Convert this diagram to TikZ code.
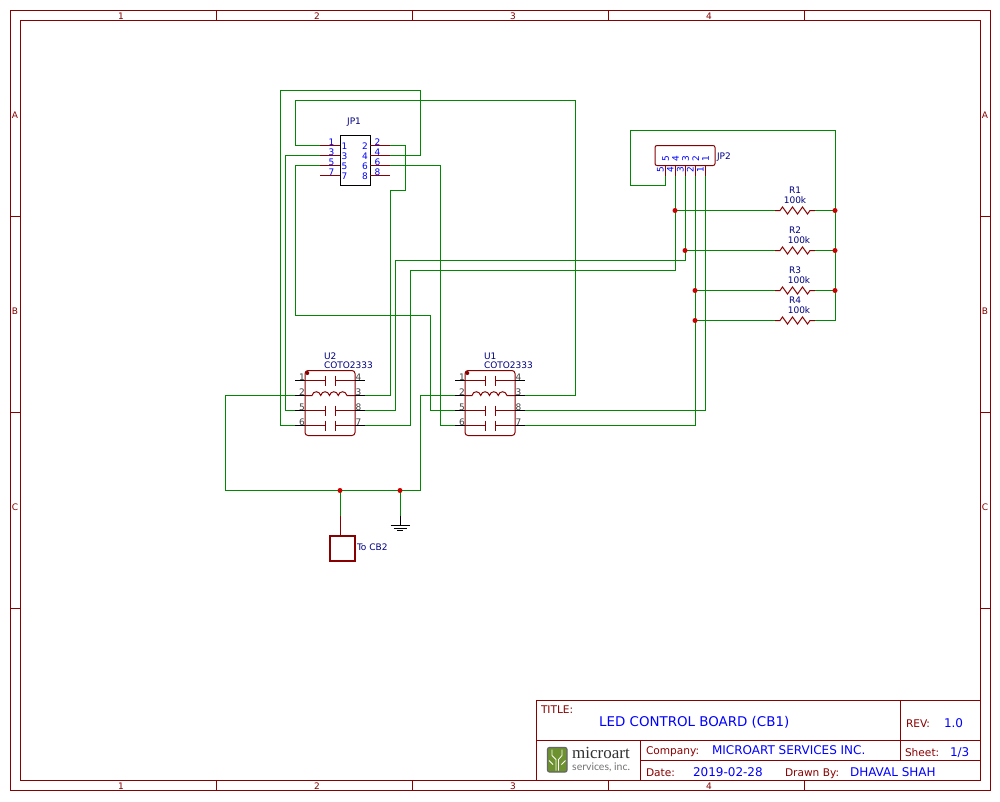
\documentclass[tikz,border=0pt]{standalone}
\usepackage{fontspec}
\usepackage{xcolor}
\setmainfont{DejaVu Sans}
\newfontfamily\logoserif{Liberation Serif}
\newfontfamily\logosans{Lato}
\definecolor{frameRed}{HTML}{880000}
\definecolor{wireGreen}{HTML}{008800}
\definecolor{dotRed}{HTML}{CC0000}
\definecolor{labelNavy}{HTML}{000080}
\definecolor{logoGreen}{HTML}{6E9130}
\begin{document}
\begin{tikzpicture}[x=1pt,y=-1pt,
    wire/.style={wireGreen,line width=1pt},
    part/.style={frameRed,line width=1pt},
    pinlead/.style={black,line width=1pt},
    txt/.style={inner sep=0pt,outer sep=0pt,anchor=base,font=\fontsize{9}{9}\selectfont},
    partlabel/.style={txt,labelNavy},
    pinnum/.style={txt,blue},
    chipnum/.style={txt,black!75},
    framelabel/.style={inner sep=0pt,frameRed,font=\fontsize{9}{9}\selectfont},
    titlekey/.style={inner sep=0pt,outer sep=0pt,anchor=base west,frameRed,font=\fontsize{10.6}{11}\selectfont},
    titleval/.style={inner sep=0pt,outer sep=0pt,anchor=base west,blue,font=\fontsize{12}{12}\selectfont},
    junction/.style={dotRed}]
    \useasboundingbox (0,0) rectangle (1000,801);
    \fill[white] (0,0) rectangle (1000,801);
    \begin{scope}[yshift=-0.5pt]

    % Sheet frame with zone marks
    \draw[part] (10,10) rectangle (990,790);
    \draw[part] (20,20) rectangle (980,780);
    \foreach \cx in {216,412,608,804} {
        \draw[part] (\cx,10) -- (\cx,20);
        \draw[part] (\cx,780) -- (\cx,790);
    }
    \foreach \ry in {216,412,608} {
        \draw[part] (10,\ry) -- (20,\ry);
        \draw[part] (980,\ry) -- (990,\ry);
    }
    \foreach \cx/\lab in {121/1,317/2,513/3,709/4} {
        \node[framelabel] (coltop\lab) at (\cx,15.5) {\lab};
        \node[framelabel] (colbot\lab) at (\cx,785.5) {\lab};
    }
    \foreach \ry/\lab in {115/A,311/B,507/C} {
        \node[framelabel] (rowleft\lab) at (15,\ry) {\lab};
        \node[framelabel] (rowright\lab) at (985,\ry) {\lab};
    }

    % JP1 header
    \draw[black,line width=1pt] (340,135) rectangle (370,185);
    \node[partlabel] (JP1name) at (354,123.5) {JP1};
    \foreach \n/\py in {1/145,3/155,5/165,7/175} {
        \coordinate (JP1-p\n) at (320,\py);
        \draw[part] (JP1-p\n) -- (340,\py);
        \node[pinnum] (JP1-out\n) at (331.5,\py) {\n};
        \node[pinnum] (JP1-in\n) at (344.5,\py+4) {\n};
    }
    \foreach \n/\py in {2/145,4/155,6/165,8/175} {
        \coordinate (JP1-p\n) at (390,\py);
        \draw[part] (370,\py) -- (JP1-p\n);
        \node[pinnum] (JP1-out\n) at (377.5,\py) {\n};
        \node[pinnum] (JP1-in\n) at (365,\py+4) {\n};
    }

    % JP2 header
    \draw[part,rounded corners=2pt] (655,145) rectangle (715,165);
    \node[partlabel,anchor=base west] (JP2name) at (717,158.5) {JP2};
    \foreach \n/\px in {5/665,4/675,3/685,2/695,1/705} {
        \coordinate (JP2-p\n) at (\px,175);
        \draw[part] (\px,165) -- (JP2-p\n);
        \node[pinnum,anchor=center,rotate=90] (JP2-in\n) at (\px+0.7,158.5) {\n};
        \node[pinnum,anchor=center,rotate=90] (JP2-out\n) at (\px-4.7,169) {\n};
    }

    % Relays U2 and U1
    \foreach \chip/\ox in {U2/0,U1/160} {
        \begin{scope}[xshift=\ox pt]
            \draw[part,rounded corners=3pt] (305,370) rectangle (355,435);
            \fill[frameRed] (307.3,372.5) circle (2);
            \node[partlabel,anchor=base west] (\chip name) at (324,358.5) {\chip};
            \node[partlabel,anchor=base west] (\chip type) at (324,367.5) {COTO2333};
            % capacitive pairs
            \foreach \py in {380,410,425} {
                \draw[part] (305,\py) -- (325,\py) (325,\py-5) -- (325,\py+5);
                \draw[part] (335,\py-5) -- (335,\py+5) (335,\py) -- (355,\py);
            }
            % coil
            \draw[part] (305,395) -- (312,395)
                .. controls (313,390) and (319.5,390) .. (320.75,395)
                .. controls (321.75,390) and (328.25,390) .. (329.5,395)
                .. controls (330.5,390) and (337,390) .. (338.25,395)
                .. controls (339.25,390) and (345.75,390) .. (347,395)
                -- (355,395);
            \foreach \n/\py in {1/380,2/395,5/410,6/425} {
                \coordinate (\chip-p\n) at (295,\py);
                \draw[pinlead] (\chip-p\n) -- (305,\py);
                \node[chipnum] (\chip-num\n) at (302,\py) {\n};
            }
            \foreach \n/\py in {4/380,3/395,8/410,7/425} {
                \coordinate (\chip-p\n) at (365,\py);
                \draw[pinlead] (355,\py) -- (\chip-p\n);
                \node[chipnum] (\chip-num\n) at (358.5,\py) {\n};
            }
        \end{scope}
    }

    % Resistors
    \foreach \rname/\ry/\vx in {R1/210/795,R2/250/799,R3/290/799,R4/320/799} {
        \coordinate (\rname-l) at (775,\ry);
        \coordinate (\rname-r) at (815,\ry);
        \draw[part] (\rname-l) -- (780,\ry) -- ++(2.5,-3.5) -- ++(5,7) -- ++(5,-7) -- ++(5,7)
            -- ++(5,-7) -- ++(5,7) -- (810,\ry) -- (\rname-r);
        \node[partlabel] (\rname name) at (795,\ry-17.5) {\rname};
        \node[partlabel] (\rname val) at (\vx,\ry-7.5) {100k};
    }

    % Junctions that the wires meet
    \coordinate (railR1) at (835,210);
    \coordinate (railR2) at (835,250);
    \coordinate (railR3) at (835,290);
    \coordinate (busR1) at (675,210);
    \coordinate (busR2) at (685,250);
    \coordinate (busR3) at (695,290);
    \coordinate (busR4) at (695,320);
    \coordinate (gndA) at (340,490);
    \coordinate (gndB) at (400,490);
    \coordinate (termtop) at (340,515);
    \coordinate (gndpin) at (400,515);

    % Wires around JP1
    \draw[wire] (JP1-p1) -- (295,145) -- (295,100) -- (575,100) -- (575,395) -- (U1-p3);
    \draw[wire] (JP1-p3) -- (285,155) -- (285,410) -- (U2-p5);
    \draw[wire] (JP1-p5) -- (295,165) -- (295,315) -- (430,315) -- (430,410) -- (U1-p5);
    \draw[wire] (JP1-p2) -- (405,145) -- (405,190) -- (390,190) -- (390,395) -- (U2-p3);
    \draw[wire] (JP1-p4) -- (420,155) -- (420,90) -- (280,90) -- (280,425) -- (U2-p6);
    \draw[wire] (JP1-p6) -- (440,165) -- (440,425) -- (U1-p6);

    % Wires between the relays and JP2
    \draw[wire] (U2-p8) -- (395,410) -- (395,260) -- (685,260) -- (busR2);
    \draw[wire] (U2-p7) -- (410,425) -- (410,270) -- (675,270) -- (busR1);
    \draw[wire] (JP2-p4) -- (busR1);
    \draw[wire] (JP2-p3) -- (busR2);
    \draw[wire] (JP2-p2) -- (busR3) -- (busR4) -- (695,425) -- (U1-p7);
    \draw[wire] (JP2-p1) -- (705,410) -- (U1-p8);
    \draw[wire] (JP2-p5) -- (665,185) -- (630,185) -- (630,130) -- (835,130) -- (railR1)
        -- (railR2) -- (railR3) -- (835,320) -- (R4-r);
    \draw[wire] (busR1) -- (R1-l);
    \draw[wire] (busR2) -- (R2-l);
    \draw[wire] (busR3) -- (R3-l);
    \draw[wire] (busR4) -- (R4-l);
    \draw[wire] (R1-r) -- (railR1);
    \draw[wire] (R2-r) -- (railR2);
    \draw[wire] (R3-r) -- (railR3);

    % Common line, terminal and ground
    \draw[wire] (U2-p2) -- (225,395) -- (225,490) -- (gndA) -- (gndB) -- (420,490) -- (420,395) -- (U1-p2);
    \draw[wire] (gndA) -- (termtop);
    \draw[wire] (gndB) -- (gndpin);
    \draw[part] (termtop) -- (340,535);
    \draw[frameRed,line width=2pt] (330,535) rectangle (355,560);
    \node[partlabel,anchor=base west] (CB2name) at (357,549.5) {To CB2};
    \draw[pinlead] (gndpin) -- (400,525);
    \draw[pinlead] (390.5,525) -- (409.5,525);
    \draw[pinlead] (393.5,527.5) -- (406.5,527.5);
    \draw[pinlead] (397,530) -- (403,530);

    \foreach \dotname in {railR1,railR2,railR3,busR1,busR2,busR3,busR4,gndA,gndB} {
        \fill[junction] (\dotname) circle (2.5);
    }

    % Title block
    \draw[part] (536,700) rectangle (980,780);
    \draw[part] (536,740) -- (980,740);
    \draw[part] (900,700) -- (900,760);
    \draw[part] (640,760) -- (980,760);
    \draw[part] (640,740) -- (640,780);
    \node[titlekey] (titlekey) at (541,713) {TITLE:};
    \node[inner sep=0pt,anchor=base west,blue,font=\fontsize{13.4}{14}\selectfont] (titleval) at (599,726) {LED CONTROL BOARD (CB1)};
    \node[titlekey] (revkey) at (906,727) {REV:};
    \node[titleval] (revval) at (944,727) {1.0};
    \node[titlekey] (companykey) at (646,754) {Company:};
    \node[titleval] (companyval) at (712,754) {MICROART SERVICES INC.};
    \node[titlekey] (sheetkey) at (905,756) {Sheet:};
    \node[titleval] (sheetval) at (950,756) {1/3};
    \node[titlekey] (datekey) at (646,776) {Date:};
    \node[titleval] (dateval) at (693,776) {2019-02-28};
    \node[titlekey] (drawnkey) at (785,776) {Drawn By:};
    \node[titleval] (drawnval) at (850,776) {DHAVAL SHAH};

    % Logo
    \draw[black!60,fill=logoGreen,line width=1.2pt,rounded corners=2pt] (547.5,747) rectangle (567,771.5);
    \draw[white,line width=0.8pt] (552,749) -- (552,755) -- (556,759) -- (556,770);
    \draw[white,line width=0.8pt] (562,749) -- (562,755) -- (558.5,759) -- (558.5,770);
    \draw[white,line width=0.8pt] (549,760) -- (553,764);
    \draw[white,line width=0.8pt] (565.5,760) -- (561.5,764);
    \node[inner sep=0pt,anchor=base west,black!80,font=\logoserif\fontsize{17}{17}\selectfont] (logotop) at (572,758) {microart};
    \node[inner sep=0pt,anchor=base west,black!55,font=\logosans\fontsize{10.5}{11}\selectfont] (logobot) at (572,770) {services, inc.};
    \end{scope}
\end{tikzpicture}
\end{document}
